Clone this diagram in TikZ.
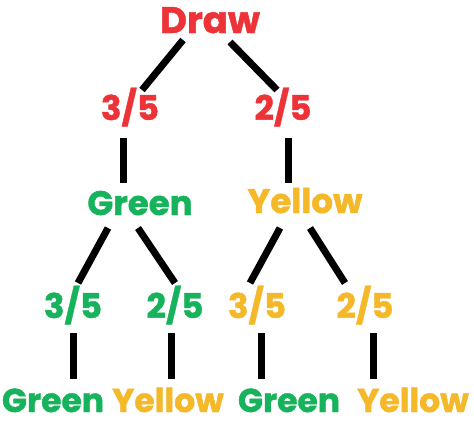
\documentclass[tikz,border=0pt]{standalone}
\usepackage{fontspec}
\setmainfont{Poppins}[BoldFeatures={FakeBold=1.2}]
\definecolor{cred}{HTML}{EE3338}
\definecolor{cgreen}{HTML}{17B35C}
\definecolor{cyellow}{HTML}{F4B829}
\tikzset{
  lbl/.style={anchor=base, inner sep=0pt, font=\fontsize{34}{40}\selectfont\bfseries},
  leaf/.style={lbl, font=\fontsize{33}{40}\selectfont\bfseries},
  edge/.style={line width=7pt, black, line cap=butt}
}
\begin{document}
\begin{tikzpicture}[x=1pt,y=-1pt]
\useasboundingbox (0,0) rectangle (474,421);
\fill[white] (0,0) rectangle (474,421);
% nodes
\node[lbl, cred, font=\fontsize{37}{44}\selectfont\bfseries] (draw) at (210,33) {Draw};
\node[lbl, cred] (r35) at (130,120) {3/5};
\node[lbl, cred] (r25) at (283,120) {2/5};
\node[lbl, cgreen] (gm) at (140,215) {Green};
\node[lbl, cyellow] (ym) at (305,213) {Yellow};
\node[lbl, cgreen] (g35) at (73,318) {3/5};
\node[lbl, cgreen] (g25) at (175,318) {2/5};
\node[lbl, cyellow] (y35) at (257,318) {3/5};
\node[lbl, cyellow] (y25) at (365,318) {2/5};
\node[leaf, cgreen] (bg1) at (53,412) {Green};
\node[leaf, cyellow] (by1) at (168,412) {Yellow};
\node[leaf, cgreen] (bg2) at (289,412) {Green};
\node[leaf, cyellow] (by2) at (413,412) {Yellow};
% connectors
\draw[edge] ([shift={(-27,7)}]draw.base) -- ([shift={(12,-30)}]r35.base);
\draw[edge] ([shift={(20,9)}]draw.base) -- ([shift={(-6,-30)}]r25.base);
\draw[edge] ([shift={(-7,18)}]r35.base) -- ([shift={(-17,-32)}]gm.base);
\draw[edge] ([shift={(5,18)}]r25.base) -- ([shift={(-17,-30)}]ym.base);
\draw[edge] ([shift={(-32,13)}]gm.base) -- ([shift={(5,-35)}]g35.base);
\draw[edge] ([shift={(-2,13)}]gm.base) -- ([shift={(0,-35)}]g25.base);
\draw[edge] ([shift={(-25,15)}]ym.base) -- ([shift={(-7,-35)}]y35.base);
\draw[edge] ([shift={(5,15)}]ym.base) -- ([shift={(-20,-35)}]y25.base);
\draw[edge] ([shift={(0,15)}]g35.base) -- ([shift={(20,-33)}]bg1.base);
\draw[edge] ([shift={(-4,15)}]g25.base) -- ([shift={(3,-33)}]by1.base);
\draw[edge] ([shift={(4,15)}]y35.base) -- ([shift={(-28,-33)}]bg2.base);
\draw[edge] ([shift={(8,15)}]y25.base) -- ([shift={(-40,-33)}]by2.base);
\end{tikzpicture}
\end{document}
